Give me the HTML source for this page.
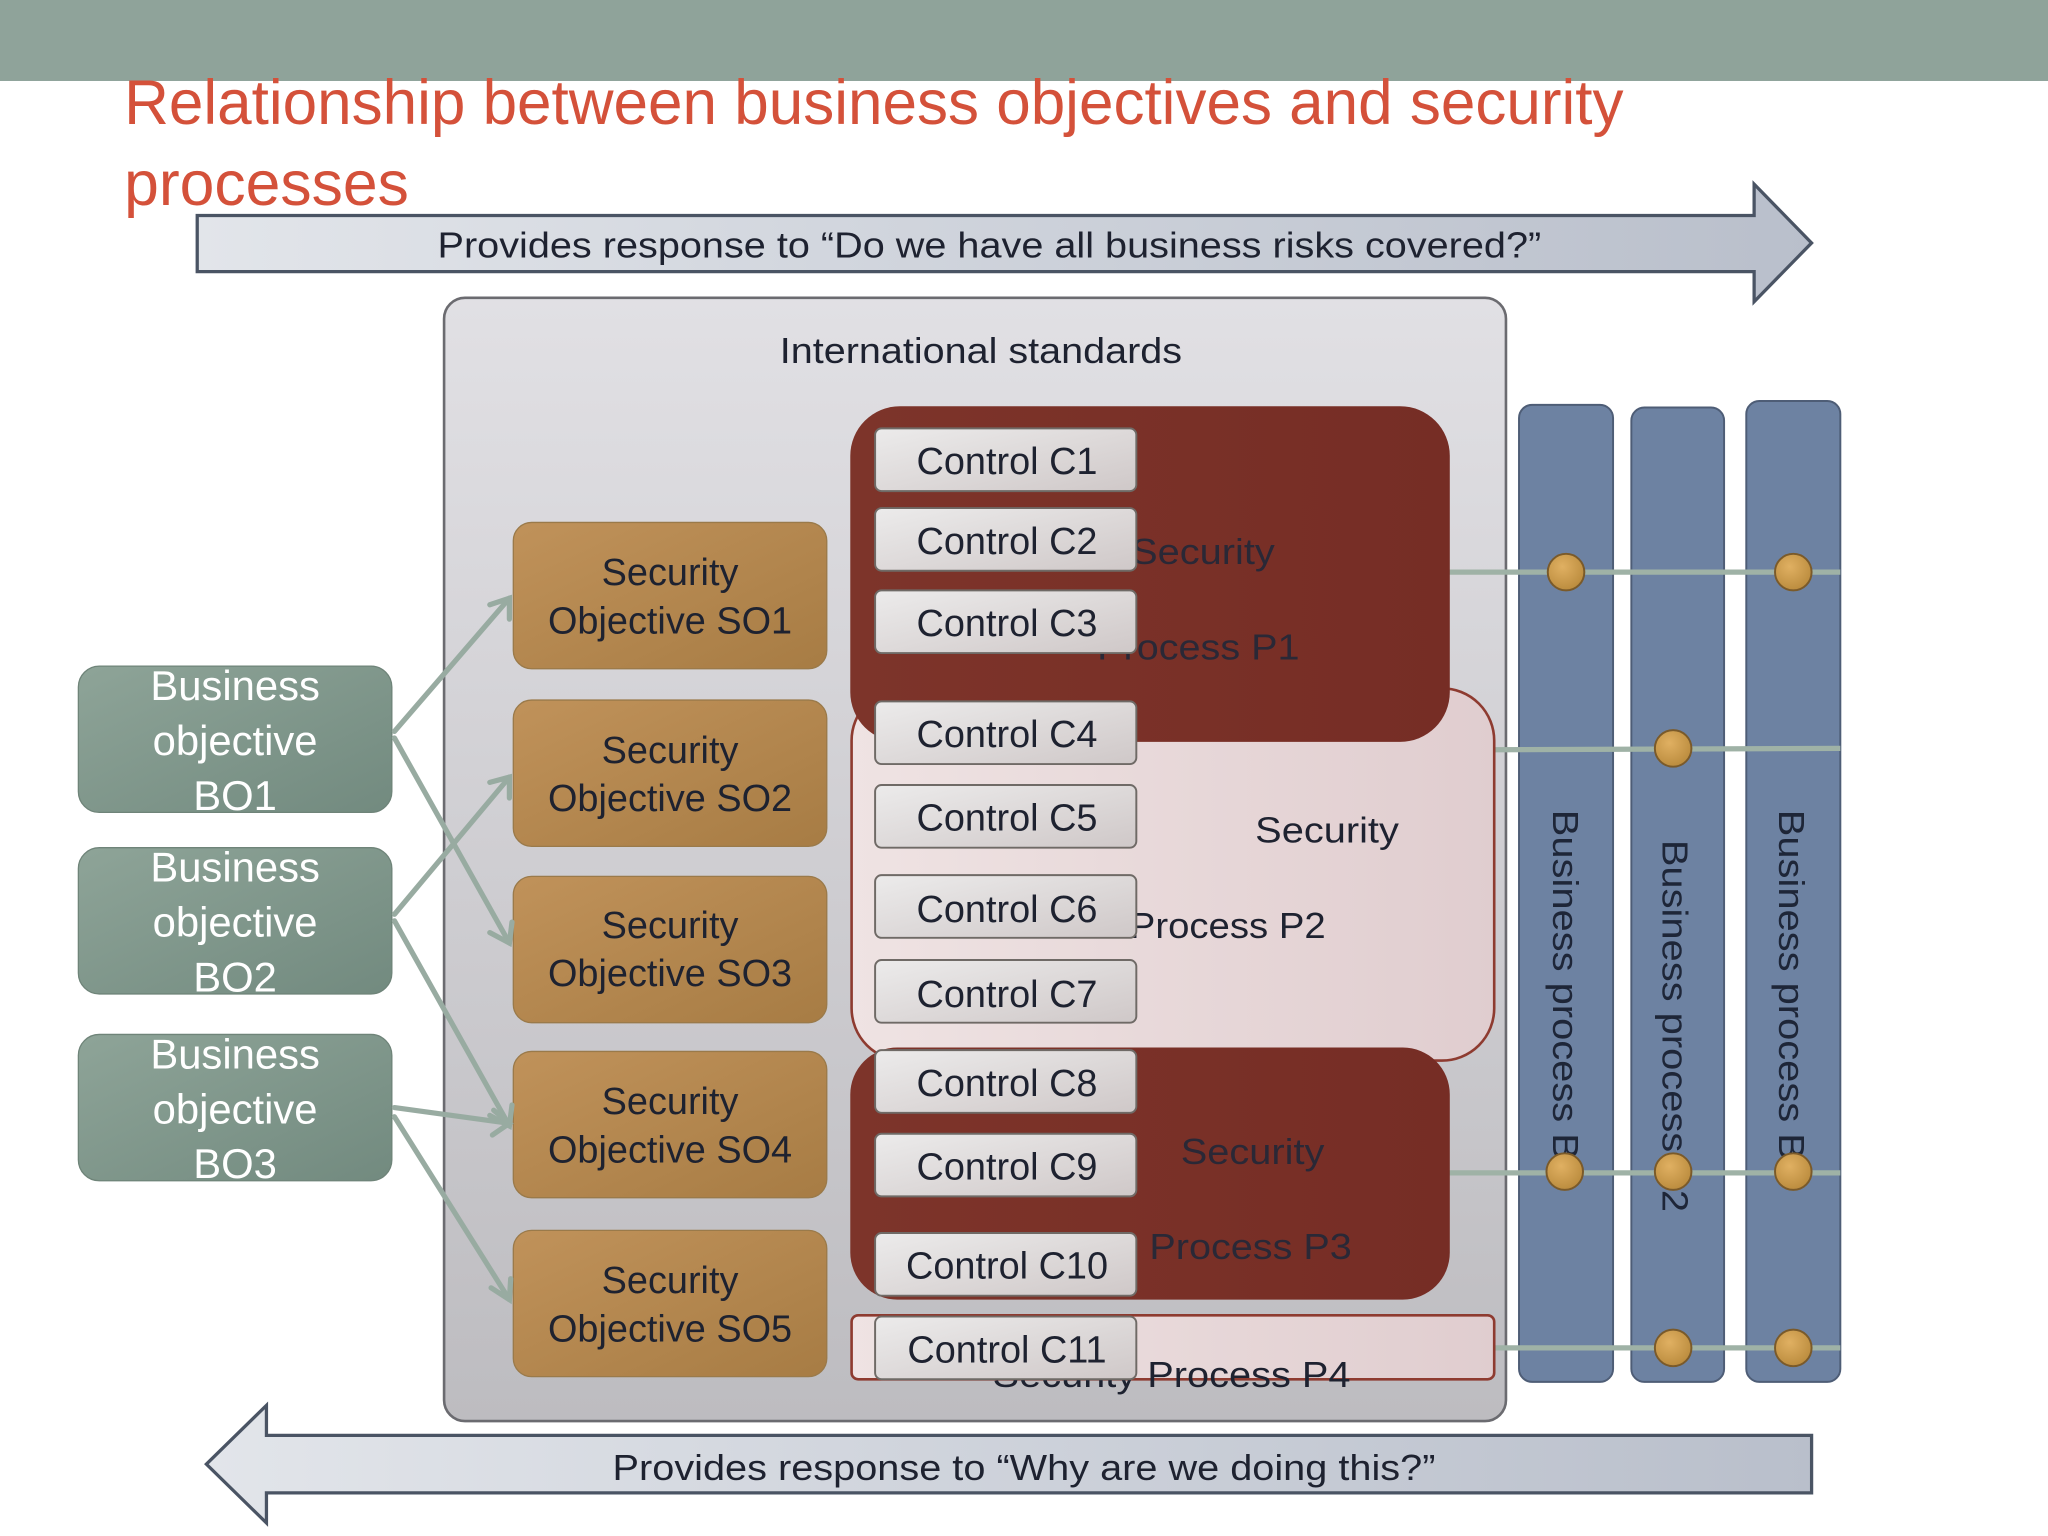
<!DOCTYPE html>
<html><head><meta charset="utf-8"><style>html,body{margin:0;padding:0;background:#fff}svg{display:block}</style></head>
<body>
<svg width="2048" height="1536" viewBox="0 0 1568 1176" xmlns="http://www.w3.org/2000/svg" font-family="Liberation Sans, sans-serif">
<defs>
<linearGradient id="arr" x1="0" x2="1" y1="0" y2="0"><stop offset="0" stop-color="#e2e5ea"/><stop offset="1" stop-color="#b9bfcb"/></linearGradient>
<linearGradient id="big" x1="0" x2="0" y1="0" y2="1"><stop offset="0" stop-color="#e1e0e4"/><stop offset="1" stop-color="#bdbcc0"/></linearGradient>
<linearGradient id="ctl" x1="0" x2="1" y1="0" y2="1"><stop offset="0" stop-color="#ecebeb"/><stop offset="1" stop-color="#cfc8c8"/></linearGradient>
<linearGradient id="so" x1="0" x2="1" y1="0" y2="1"><stop offset="0" stop-color="#c0925a"/><stop offset="1" stop-color="#a77c44"/></linearGradient>
<linearGradient id="bo" x1="0" x2="1" y1="0" y2="1"><stop offset="0" stop-color="#8ea498"/><stop offset="1" stop-color="#728a7f"/></linearGradient>
<linearGradient id="pink" x1="0" x2="1"><stop offset="0" stop-color="#efe3e3"/><stop offset="1" stop-color="#e0cdcf"/></linearGradient>
<linearGradient id="red" x1="0" x2="1"><stop offset="0" stop-color="#7d342a"/><stop offset="1" stop-color="#762d25"/></linearGradient>
<radialGradient id="dot" cx="0.4" cy="0.35" r="0.7"><stop offset="0" stop-color="#e0b062"/><stop offset="1" stop-color="#b98a3c"/></radialGradient>
<clipPath id="c1"><rect x="1163" y="308" width="72" height="580"/></clipPath>
<clipPath id="c3"><rect x="1337" y="308" width="72" height="580"/></clipPath>
</defs>
<rect x="0" y="0" width="1568" height="62" fill="#8fa39a"/>
<text x="95" y="95" font-size="48" fill="#d4513a" textLength="1148" lengthAdjust="spacingAndGlyphs">Relationship between business objectives and security</text>
<text x="95" y="157" font-size="48" fill="#d4513a" textLength="218" lengthAdjust="spacingAndGlyphs">processes</text>

<polygon points="151,165 1343,165 1343,141 1387,186 1343,231 1343,208 151,208" fill="url(#arr)" stroke="#4a5464" stroke-width="2.5"/>
<text x="335" y="197" font-size="28" fill="#1e2230" textLength="845" lengthAdjust="spacingAndGlyphs">Provides response to “Do we have all business risks covered?”</text>

<rect x="340" y="228" width="813" height="860" rx="16" fill="url(#big)" stroke="#6b6b70" stroke-width="2"/>
<text x="597" y="278" font-size="28" fill="#1e2230" textLength="308" lengthAdjust="spacingAndGlyphs">International standards</text>

<g fill="#6d82a2" stroke="#4e5d76" stroke-width="1.5">
<rect x="1163" y="310" width="72" height="748" rx="10"/>
<rect x="1249" y="312" width="71" height="746" rx="10"/>
<rect x="1337" y="307" width="72" height="751" rx="10"/>
</g>
<g font-size="28" fill="#1e2638">
<g clip-path="url(#c1)"><text transform="translate(1189,620) rotate(90)" textLength="285" lengthAdjust="spacingAndGlyphs">Business process B1</text></g>
<text transform="translate(1273,643) rotate(90)" textLength="285" lengthAdjust="spacingAndGlyphs">Business process B2</text>
<g clip-path="url(#c3)"><text transform="translate(1362,620) rotate(90)" textLength="285" lengthAdjust="spacingAndGlyphs">Business process B3</text></g>
</g>
<g stroke="#9fb2a6" stroke-width="4">
<line x1="1108" y1="438" x2="1409" y2="438"/>
<line x1="1144" y1="574" x2="1409" y2="573"/>
<line x1="1108" y1="898" x2="1409" y2="898"/>
<line x1="1144" y1="1032" x2="1409" y2="1032"/>
</g>

<!-- P2 -->
<rect x="652" y="527" width="492" height="285" rx="40" fill="url(#pink)" stroke="#8e3b30" stroke-width="2"/>
<text x="961" y="645" font-size="28" fill="#1e2230" textLength="110" lengthAdjust="spacingAndGlyphs">Security</text>
<text x="865" y="718" font-size="28" fill="#1e2230" textLength="150" lengthAdjust="spacingAndGlyphs">Process P2</text>
<!-- P1 -->
<rect x="651" y="311" width="459" height="257" rx="38" fill="url(#red)"/>
<text x="866" y="432" font-size="28" fill="#2a2836" textLength="110" lengthAdjust="spacingAndGlyphs">Security</text>
<text x="840" y="505" font-size="28" fill="#2a2836" textLength="155" lengthAdjust="spacingAndGlyphs">Process P1</text>
<!-- P3 -->
<rect x="651" y="802" width="459" height="193" rx="36" fill="url(#red)"/>
<text x="904" y="891" font-size="28" fill="#2a2836" textLength="110" lengthAdjust="spacingAndGlyphs">Security</text>
<text x="880" y="964" font-size="28" fill="#2a2836" textLength="155" lengthAdjust="spacingAndGlyphs">Process P3</text>
<!-- P4 -->
<rect x="652" y="1007" width="492" height="49" rx="5" fill="url(#pink)" stroke="#8e3b30" stroke-width="2"/>
<text x="760" y="1062" font-size="28" fill="#1e2230" textLength="274" lengthAdjust="spacingAndGlyphs">Security Process P4</text>

<g fill="url(#ctl)" stroke="#6f6a66" stroke-width="1.5">
<rect x="670" y="328" width="200" height="48" rx="5"/>
<rect x="670" y="389" width="200" height="48" rx="5"/>
<rect x="670" y="452" width="200" height="48" rx="5"/>
<rect x="670" y="537" width="200" height="48" rx="5"/>
<rect x="670" y="601" width="200" height="48" rx="5"/>
<rect x="670" y="670" width="200" height="48" rx="5"/>
<rect x="670" y="735" width="200" height="48" rx="5"/>
<rect x="670" y="804" width="200" height="48" rx="5"/>
<rect x="670" y="868" width="200" height="48" rx="5"/>
<rect x="670" y="944" width="200" height="48" rx="5"/>
<rect x="670" y="1008" width="200" height="48" rx="5"/>
</g>
<g font-size="29" fill="#1e2230" text-anchor="middle">
<text x="771" y="363">Control C1</text>
<text x="771" y="424">Control C2</text>
<text x="771" y="487">Control C3</text>
<text x="771" y="572">Control C4</text>
<text x="771" y="636">Control C5</text>
<text x="771" y="706">Control C6</text>
<text x="771" y="771">Control C7</text>
<text x="771" y="839">Control C8</text>
<text x="771" y="903">Control C9</text>
<text x="771" y="979">Control C10</text>
<text x="771" y="1043">Control C11</text>
</g>

<g fill="url(#dot)" stroke="#7a5a2a" stroke-width="1.5">
<circle cx="1199" cy="438" r="14"/>
<circle cx="1373" cy="438" r="14"/>
<circle cx="1281" cy="573" r="14"/>
<circle cx="1198" cy="897" r="14"/>
<circle cx="1281" cy="897" r="14"/>
<circle cx="1373" cy="897" r="14"/>
<circle cx="1281" cy="1032" r="14"/>
<circle cx="1373" cy="1032" r="14"/>
</g>

<g fill="url(#so)" stroke="#9a7a4a" stroke-width="1">
<rect x="393" y="400" width="240" height="112" rx="14"/>
<rect x="393" y="536" width="240" height="112" rx="14"/>
<rect x="393" y="671" width="240" height="112" rx="14"/>
<rect x="393" y="805" width="240" height="112" rx="14"/>
<rect x="393" y="942" width="240" height="112" rx="14"/>
</g>
<g font-size="29" fill="#1e2230" text-anchor="middle">
<text x="513" y="448">Security</text><text x="513" y="485">Objective SO1</text>
<text x="513" y="584">Security</text><text x="513" y="621">Objective SO2</text>
<text x="513" y="718">Security</text><text x="513" y="755">Objective SO3</text>
<text x="513" y="853">Security</text><text x="513" y="890">Objective SO4</text>
<text x="513" y="990">Security</text><text x="513" y="1027">Objective SO5</text>
</g>

<g fill="url(#bo)" stroke="#6f8479" stroke-width="1">
<rect x="60" y="510" width="240" height="112" rx="16"/>
<rect x="60" y="649" width="240" height="112" rx="16"/>
<rect x="60" y="792" width="240" height="112" rx="16"/>
</g>
<g font-size="32" fill="#ffffff" text-anchor="middle">
<text x="180" y="536">Business</text><text x="180" y="578">objective</text><text x="180" y="620">BO1</text>
<text x="180" y="675">Business</text><text x="180" y="717">objective</text><text x="180" y="759">BO2</text>
<text x="180" y="818">Business</text><text x="180" y="860">objective</text><text x="180" y="902">BO3</text>
</g>

<g stroke="#98aba1" stroke-width="4" fill="none" stroke-linecap="round">
<line x1="302" y1="560" x2="390" y2="458"/>
<polyline points="375,463 390,458 390,474"/>
<line x1="302" y1="565" x2="390" y2="722"/>
<polyline points="375,714 390,722 392,706"/>
<line x1="302" y1="700" x2="390" y2="595"/>
<polyline points="375,599 390,595 390,611"/>
<line x1="302" y1="705" x2="390" y2="862"/>
<polyline points="375,854 390,862 392,846"/>
<line x1="302" y1="848" x2="390" y2="860"/>
<polyline points="378,850 390,860 377,869"/>
<line x1="302" y1="855" x2="390" y2="995"/>
<polyline points="376,986 390,995 391,979"/>
</g>

<polygon points="1387,1099 204,1099 204,1076 158,1121 204,1166 204,1143 1387,1143" fill="url(#arr)" stroke="#4a5464" stroke-width="2.5"/>
<text x="469" y="1133" font-size="28" fill="#1e2230" textLength="630" lengthAdjust="spacingAndGlyphs">Provides response to “Why are we doing this?”</text>
</svg>
</body></html>
